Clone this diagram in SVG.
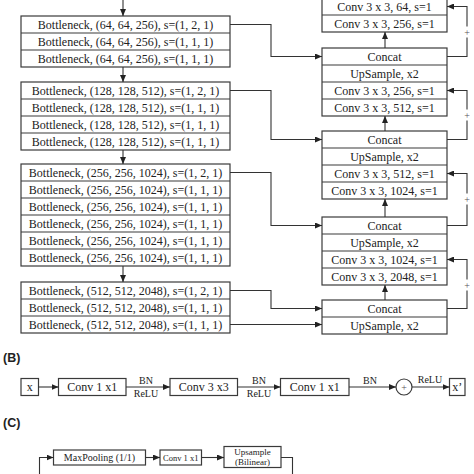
<svg xmlns="http://www.w3.org/2000/svg" width="474" height="474" viewBox="0 0 474 474">
<style>
.bg{fill:#fff}
.box{fill:#fff;stroke:#3a3a3a;stroke-width:1.2}
.sep{stroke:#3a3a3a;stroke-width:1.2}
.t{font-family:"Liberation Serif","Times New Roman",serif;font-size:12px;fill:#222;text-anchor:middle}
.s{font-size:10px}
.u{font-size:9px}
.xs{font-size:8.5px}
.p{font-family:"Liberation Serif","Times New Roman",serif;font-size:10px;fill:#555;text-anchor:middle}
.c{fill:none;stroke:#333;stroke-width:1.1}
.lbl{font-family:"Liberation Sans",Arial,sans-serif;font-weight:bold;font-size:12.5px;fill:#222}
</style>
<defs>
<marker id="ah" markerWidth="7" markerHeight="6" refX="7" refY="3" orient="auto" markerUnits="userSpaceOnUse">
<path d="M0,0 L7,3 L0,6 z" fill="#222"/>
</marker>
</defs>
<rect class="bg" x="0" y="0" width="474" height="474"/>

<!-- Left column (encoder) -->
<g id="stage1">
<rect class="box" x="21" y="16" width="209" height="51"/>
<line class="sep" x1="21" y1="33" x2="230" y2="33"/>
<line class="sep" x1="21" y1="50" x2="230" y2="50"/>
<text class="t" x="125.5" y="28.5">Bottleneck, (64, 64, 256), s=(1, 2, 1)</text>
<text class="t" x="125.5" y="45.5">Bottleneck, (64, 64, 256), s=(1, 1, 1)</text>
<text class="t" x="125.5" y="62.5">Bottleneck, (64, 64, 256), s=(1, 1, 1)</text>
</g>
<g id="stage2">
<rect class="box" x="21" y="82" width="209" height="68"/>
<line class="sep" x1="21" y1="99" x2="230" y2="99"/>
<line class="sep" x1="21" y1="116" x2="230" y2="116"/>
<line class="sep" x1="21" y1="133" x2="230" y2="133"/>
<text class="t" x="125.5" y="94.5">Bottleneck, (128, 128, 512), s=(1, 2, 1)</text>
<text class="t" x="125.5" y="111.5">Bottleneck, (128, 128, 512), s=(1, 1, 1)</text>
<text class="t" x="125.5" y="128.5">Bottleneck, (128, 128, 512), s=(1, 1, 1)</text>
<text class="t" x="125.5" y="145.5">Bottleneck, (128, 128, 512), s=(1, 1, 1)</text>
</g>
<g id="stage3">
<rect class="box" x="21" y="164" width="209" height="102"/>
<line class="sep" x1="21" y1="181" x2="230" y2="181"/>
<line class="sep" x1="21" y1="198" x2="230" y2="198"/>
<line class="sep" x1="21" y1="215" x2="230" y2="215"/>
<line class="sep" x1="21" y1="232" x2="230" y2="232"/>
<line class="sep" x1="21" y1="249" x2="230" y2="249"/>
<text class="t" x="125.5" y="176.5">Bottleneck, (256, 256, 1024), s=(1, 2, 1)</text>
<text class="t" x="125.5" y="193.5">Bottleneck, (256, 256, 1024), s=(1, 1, 1)</text>
<text class="t" x="125.5" y="210.5">Bottleneck, (256, 256, 1024), s=(1, 1, 1)</text>
<text class="t" x="125.5" y="227.5">Bottleneck, (256, 256, 1024), s=(1, 1, 1)</text>
<text class="t" x="125.5" y="244.5">Bottleneck, (256, 256, 1024), s=(1, 1, 1)</text>
<text class="t" x="125.5" y="261.5">Bottleneck, (256, 256, 1024), s=(1, 1, 1)</text>
</g>
<g id="stage4">
<rect class="box" x="21" y="282" width="209" height="51"/>
<line class="sep" x1="21" y1="299" x2="230" y2="299"/>
<line class="sep" x1="21" y1="316" x2="230" y2="316"/>
<text class="t" x="125.5" y="294.5">Bottleneck, (512, 512, 2048), s=(1, 2, 1)</text>
<text class="t" x="125.5" y="311.5">Bottleneck, (512, 512, 2048), s=(1, 1, 1)</text>
<text class="t" x="125.5" y="328.5">Bottleneck, (512, 512, 2048), s=(1, 1, 1)</text>
</g>

<!-- Right column (decoder) -->
<g id="dec1">
<rect class="box" x="322" y="-3" width="125" height="35"/>
<line class="sep" x1="322" y1="15" x2="447" y2="15"/>
<text class="t" x="384.5" y="10.5">Conv 3 x 3, 64, s=1</text>
<text class="t" x="384.5" y="27.5">Conv 3 x 3, 256, s=1</text>
</g>
<g id="dec2">
<rect class="box" x="322" y="48" width="125" height="68"/>
<line class="sep" x1="322" y1="65" x2="447" y2="65"/>
<line class="sep" x1="322" y1="82" x2="447" y2="82"/>
<line class="sep" x1="322" y1="99" x2="447" y2="99"/>
<text class="t" x="384.5" y="60.5">Concat</text>
<text class="t" x="384.5" y="77.5">UpSample, x2</text>
<text class="t" x="384.5" y="94.5">Conv 3 x 3, 256, s=1</text>
<text class="t" x="384.5" y="111.5">Conv 3 x 3, 512, s=1</text>
</g>
<g id="dec3">
<rect class="box" x="322" y="131" width="125" height="68"/>
<line class="sep" x1="322" y1="148" x2="447" y2="148"/>
<line class="sep" x1="322" y1="165" x2="447" y2="165"/>
<line class="sep" x1="322" y1="182" x2="447" y2="182"/>
<text class="t" x="384.5" y="143.5">Concat</text>
<text class="t" x="384.5" y="160.5">UpSample, x2</text>
<text class="t" x="384.5" y="177.5">Conv 3 x 3, 512, s=1</text>
<text class="t" x="384.5" y="194.5">Conv 3 x 3, 1024, s=1</text>
</g>
<g id="dec4">
<rect class="box" x="322" y="217" width="125" height="68"/>
<line class="sep" x1="322" y1="234" x2="447" y2="234"/>
<line class="sep" x1="322" y1="251" x2="447" y2="251"/>
<line class="sep" x1="322" y1="268" x2="447" y2="268"/>
<text class="t" x="384.5" y="229.5">Concat</text>
<text class="t" x="384.5" y="246.5">UpSample, x2</text>
<text class="t" x="384.5" y="263.5">Conv 3 x 3, 1024, s=1</text>
<text class="t" x="384.5" y="280.5">Conv 3 x 3, 2048, s=1</text>
</g>
<g id="dec5">
<rect class="box" x="322" y="300" width="125" height="34"/>
<line class="sep" x1="322" y1="317" x2="447" y2="317"/>
<text class="t" x="384.5" y="312.5">Concat</text>
<text class="t" x="384.5" y="329.5">UpSample, x2</text>
</g>

<!-- Panel labels -->
<text class="lbl" x="3" y="361.5">(B)</text>
<text class="lbl" x="3" y="427">(C)</text>

<!-- Panel B nodes -->
<g id="b_x">
<rect class="box" x="21" y="378.5" width="17.5" height="17"/>
<text class="t" x="29.75" y="391">x</text>
</g>
<g id="b_conv1">
<rect class="box" x="58.5" y="378.5" width="67.5" height="17"/>
<text class="t" x="92.25" y="391">Conv 1 x1</text>
</g>
<g id="b_conv3">
<rect class="box" x="170" y="378.5" width="67.5" height="17"/>
<text class="t" x="203.75" y="391">Conv 3 x3</text>
</g>
<g id="b_conv1b">
<rect class="box" x="280.5" y="378.5" width="68.5" height="17"/>
<text class="t" x="314.75" y="391">Conv 1 x1</text>
</g>
<g id="b_add">
<circle class="box" cx="404" cy="387" r="8"/>
<text class="p" x="404" y="390.5">+</text>
</g>
<g id="b_xout">
<rect class="box" x="449.5" y="378.5" width="15.5" height="17"/>
<text class="t" x="457.25" y="391">x’</text>
</g>

<!-- Panel C nodes -->
<g id="c_maxpool">
<rect class="box" x="53.5" y="450" width="92" height="15"/>
<text class="t s" x="99.5" y="461">MaxPooling (1/1)</text>
</g>
<g id="c_conv">
<rect class="box" x="160" y="450" width="41.5" height="15"/>
<text class="t xs" x="180.75" y="460.5">Conv 1 x1</text>
</g>
<g id="c_up">
<rect class="box" x="224" y="446.5" width="57" height="21"/>
<text class="t u" x="252.5" y="455">Upsample</text>
<text class="t u" x="252.5" y="464.5">(Bilinear)</text>
</g>

<!-- Connectors -->
<g id="connectors">
<line class="c" x1="123" y1="0" x2="123" y2="16" marker-end="url(#ah)"/>
<line class="c" x1="123" y1="67" x2="123" y2="82" marker-end="url(#ah)"/>
<line class="c" x1="123" y1="150" x2="123" y2="164" marker-end="url(#ah)"/>
<line class="c" x1="123" y1="266" x2="123" y2="282" marker-end="url(#ah)"/>
<path class="c" d="M230,24.5 H271 V56.5 H322" marker-end="url(#ah)"/>
<path class="c" d="M230,90.5 H271 V139.5 H322" marker-end="url(#ah)"/>
<path class="c" d="M230,172.5 H271 V225.5 H322" marker-end="url(#ah)"/>
<path class="c" d="M230,290.5 H271 V308.5 H322" marker-end="url(#ah)"/>
<path class="c" d="M230,324.5 H322" marker-end="url(#ah)"/>
<line class="c" x1="385" y1="300" x2="385" y2="285" marker-end="url(#ah)"/>
<line class="c" x1="385" y1="217" x2="385" y2="199" marker-end="url(#ah)"/>
<line class="c" x1="385" y1="131" x2="385" y2="116" marker-end="url(#ah)"/>
<line class="c" x1="385" y1="48" x2="385" y2="32" marker-end="url(#ah)"/>
<path class="c" d="M447,56.5 H467 V37.5"/>
<path class="c" d="M467,26.5 V6.5 H447" marker-end="url(#ah)"/>
<text class="p" x="467" y="35.5">+</text>
<path class="c" d="M447,139.5 H467 V120.5"/>
<path class="c" d="M467,109.5 V90.5 H447" marker-end="url(#ah)"/>
<text class="p" x="467" y="118.5">+</text>
<path class="c" d="M447,225.5 H467 V204.5"/>
<path class="c" d="M467,193.5 V173.5 H447" marker-end="url(#ah)"/>
<text class="p" x="467" y="202.5">+</text>
<path class="c" d="M447,308.5 H467 V290.5"/>
<path class="c" d="M467,279.5 V259.5 H447" marker-end="url(#ah)"/>
<text class="p" x="467" y="288.5">+</text>
<line class="c" x1="38.5" y1="387" x2="58.5" y2="387" marker-end="url(#ah)"/>
<line class="c" x1="126" y1="387" x2="170" y2="387" marker-end="url(#ah)"/>
<text class="t s" x="146" y="383.5">BN</text>
<text class="t s" x="146" y="396.5">ReLU</text>
<line class="c" x1="237.5" y1="387" x2="280.5" y2="387" marker-end="url(#ah)"/>
<text class="t s" x="259" y="383.5">BN</text>
<text class="t s" x="259" y="396.5">ReLU</text>
<line class="c" x1="349" y1="387" x2="396" y2="387" marker-end="url(#ah)"/>
<text class="t s" x="370" y="383.5">BN</text>
<line class="c" x1="412" y1="387" x2="449.5" y2="387" marker-end="url(#ah)"/>
<text class="t s" x="430" y="383">ReLU</text>
<path class="c" d="M39.5,474 V457.5 H53.5" marker-end="url(#ah)"/>
<line class="c" x1="145.5" y1="457.5" x2="160" y2="457.5" marker-end="url(#ah)"/>
<line class="c" x1="201.5" y1="457.5" x2="224" y2="457.5" marker-end="url(#ah)"/>
<path class="c" d="M281,457.5 H292.5 V474"/>
</g>
</svg>
